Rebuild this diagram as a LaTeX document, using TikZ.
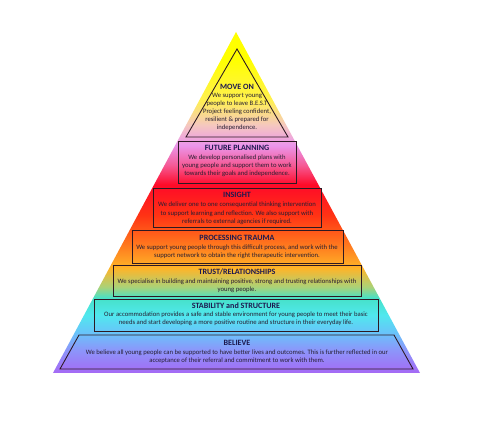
\documentclass[tikz,border=0pt]{standalone}
\usepackage{fontspec}
\setmainfont{Carlito}
\usepackage{tikz}

\definecolor{headcol}{RGB}{30,25,80}
\definecolor{bodycol}{RGB}{40,30,50}
\definecolor{boxcol}{RGB}{45,25,35}

\pgfdeclareverticalshading{pyramid}{100bp}{%
  color(0bp)=(rgb,255:red,165;green,105;blue,245);
  color(25bp)=(rgb,255:red,165;green,105;blue,245);
  color(28.4bp)=(rgb,255:red,140;green,150;blue,250);
  color(30.9bp)=(rgb,255:red,105;green,195;blue,250);
  color(33.5bp)=(rgb,255:red,80;green,232;blue,238);
  color(36bp)=(rgb,255:red,70;green,225;blue,200);
  color(37.6bp)=(rgb,255:red,170;green,210;blue,120);
  color(40.4bp)=(rgb,255:red,255;green,180;blue,40);
  color(43.8bp)=(rgb,255:red,255;green,120;blue,30);
  color(48.2bp)=(rgb,255:red,255;green,50;blue,20);
  color(52.6bp)=(rgb,255:red,255;green,10;blue,40);
  color(55.5bp)=(rgb,255:red,245;green,90;blue,150);
  color(58.4bp)=(rgb,255:red,235;green,150;blue,235);
  color(61.4bp)=(rgb,255:red,245;green,200;blue,190);
  color(65bp)=(rgb,255:red,255;green,240;blue,80);
  color(70.9bp)=(rgb,255:red,255;green,255;blue,0);
  color(75bp)=(rgb,255:red,255;green,255;blue,0);
  color(100bp)=(rgb,255:red,255;green,255;blue,0)}

\begin{document}
\begin{tikzpicture}[x=0.02cm, y=-0.02cm,
    box/.style={draw=boxcol, line width=0.5pt},
    head/.style={font=\fontsize{4.6}{5.4}\selectfont\bfseries, text=headcol, inner sep=0pt},
    body/.style={font=\fontsize{3.8}{4.6}\selectfont, text=bodycol, align=center, inner sep=0pt}]
    \useasboundingbox (0,0) rectangle (490,445);
    \shade[shading=pyramid] (236,32) -- (420,373) -- (53,373) -- cycle;

    \draw[box] (237,49) -- (288,137) -- (186,137) -- cycle;
    \draw[box] (178,141) rectangle (296,183);
    \draw[box] (153,188) rectangle (321,227);
    \draw[box] (132,230) rectangle (343,263);
    \draw[box] (113,265) rectangle (361,296);
    \draw[box] (94,299) rectangle (378,331);
    \draw[box] (79,335) -- (394,335) -- (413,369) -- (60,369) -- cycle;

    \node (mo) [head] at (237,86.5) {MOVE ON};
    \node (mot) [body] at (237,111.7) {We support young\\people to leave B.E.S.T\\Project feeling confident,\\resilient \& prepared for\\independence.};
    \node (fp) [head] at (237,148) {FUTURE PLANNING};
    \node (fpt) [body] at (237,165.5) {We develop personalised plans with\\young people and support them to work\\towards their goals and independence.};
    \node (ins) [head] at (237,195) {INSIGHT};
    \node (inst) [body] at (237,213.3) {We deliver one to one consequential thinking intervention\\to support learning and reflection. We also support with\\referrals to external agencies if required.};
    \node (pt) [head] at (237,238.3) {PROCESSING TRAUMA};
    \node (ptt) [body] at (237,251.7) {We support young people through this difficult process, and work with the\\support network to obtain the right therapeutic intervention.};
    \node (tr) [head] at (237,272.3) {TRUST/RELATIONSHIPS};
    \node (trt) [body] at (237,285.8) {We specialise in building and maintaining positive, strong and trusting relationships with\\young people.};
    \node (st) [head] at (236,305.7) {STABILITY and STRUCTURE};
    \node (stt) [body] at (236,319.2) {Our accommodation provides a safe and stable environment for young people to meet their basic\\needs and start developing a more positive routine and structure in their everyday life.};
    \node (be) [head] at (237,342.7) {BELIEVE};
    \node (bet) [body] at (237,356.3) {We believe all young people can be supported to have better lives and outcomes. This is further reflected in our\\acceptance of their referral and commitment to work with them.};
\end{tikzpicture}
\end{document}
